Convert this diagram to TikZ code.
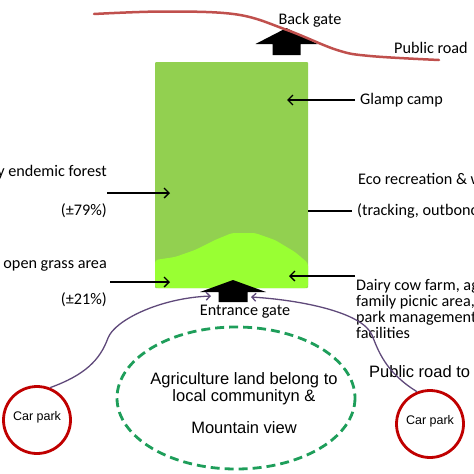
\documentclass[tikz,border=0pt]{standalone}
\usepackage{fontspec}
\setmainfont{Carlito}
\newfontfamily\arialfont{Liberation Sans}
\usetikzlibrary{positioning,arrows.meta}
\definecolor{forestgreen}{HTML}{92D050}
\definecolor{grassgreen}{HTML}{99FF33}
\definecolor{roadred}{HTML}{C0504D}
\definecolor{parkred}{HTML}{C00000}
\definecolor{walkpurple}{HTML}{5F497A}
\definecolor{agrigreen}{HTML}{1E9E5A}
\tikzset{
    pics/gatearrow/.style n args = {4}{
        code = {
        \fill [black] (-#1,0) -- (0,-#2) -- (#1,0) -- (#3,0) -- (#3,#4) -- (-#3,#4) -- (-#3,0) -- cycle;
        }
    },
    lbl/.style = {font=\fontsize{16.2}{16}\selectfont, inner sep=0pt},
    agritxt/.style = {font=\arialfont\fontsize{16.5}{17}\selectfont, align=center, inner sep=0pt},
    carpark/.style = {circle, draw=parkred, line width=2.8pt, minimum size=67pt, inner sep=0pt,
        font=\arialfont\fontsize{12.5}{13}\selectfont},
    walk/.style = {draw=walkpurple, line width=1.3pt, -{Straight Barb[length=4pt,width=8pt]}},
    pointer/.style = {line width=1.3pt}
}

\begin{document}
\begin{tikzpicture}[x=1pt, y=-1pt, >={Straight Barb[length=5pt,width=10pt]}]
    \useasboundingbox (0,0) rectangle (474,474);

    % site
    \fill [forestgreen, rounded corners=1pt] (155,62) rectangle (308,288);
    \fill [grassgreen, rounded corners=3pt] (155,260) -- (175,257) -- (195,250) -- (215,240) -- (232,233)
        -- (255,233) -- (275,240) -- (295,252) -- (308,263) -- (308,288) -- (155,288) -- cycle;

    % gates and road
    \path pic at (286.5,44) {gatearrow={31}{16}{14}{11}};
    \path pic at (233,292) {gatearrow={33}{12}{14.5}{10}};
    \draw [roadred, line width=2.5pt, line cap=round] plot [smooth, tension=0.6]
        coordinates {(94,14) (165,11.5) (237,14.5) (287,30) (337,50) (370,56) (439,60)};
    \node [lbl] (backgate) at (310,20) {Back gate};
    \node [lbl] (road) at (431,48) {Public road};
    \node [lbl] (entrance) at (245,312) {Entrance gate};

    % labels
    \node [lbl, anchor=west] (glamp) at (360,100) {Glamp camp};
    \coordinate(Gs) at (355,100);
    \coordinate(Gn) at (287,100);

    \node [lbl, anchor=east] (forest) at (107,172) {y endemic forest};
    \node [lbl, anchor=east] (forestpc) at (107,211) {(±79\%)};
    \coordinate(Fs) at (107,193);
    \coordinate(Fn) at (170,193);

    \node [lbl, anchor=east] (grass) at (107,266) {open grass area};
    \node [lbl, anchor=east] (grasspc) at (107,300) {(±21\%)};
    \coordinate(Os) at (110,282);
    \coordinate(On) at (170,282);

    \node [lbl, anchor=west] (eco) at (358,179) {Eco recreation \& w};
    \node [lbl, anchor=west] (ecoact) at (357,211) {(tracking, outbonc};
    \coordinate(Es) at (308,211);
    \coordinate(En) at (352,211);

    \node [lbl, anchor=north west, align=left] (dairy) at (356,279)
        {Dairy cow farm, ag\\family picnic area,\\park management\\facilities};
    \coordinate(Ds) at (355,276);
    \coordinate(Dn) at (289,276);

    \draw [->,  pointer] (Gs)--(Gn);
    \draw [->,  pointer] (Fs)--(Fn);
    \draw [->,  pointer] (Os)--(On);
    \draw [pointer] (Es)--(En);
    \draw [->,  pointer] (Ds)--(Dn);

    % outside the site
    \draw [agrigreen, line width=2.8pt, dash pattern=on 9pt off 5pt] (236,398) ellipse [x radius=119, y radius=71];
    \node [agritxt] (agri) at (244,403)
        {Agriculture land belong to\\local communityn \&\\[15pt]Mountain view};
    \node [agritxt, anchor=west] (road2) at (369,372) {Public road to t};

    \node [carpark, text height=6pt, text depth=5pt] (cpl) at (37,420) {Car park};
    \node [carpark, text height=6pt, text depth=5pt] (cpr) at (430,424) {Car park};
    \coordinate(Wl) at (211,296);
    \coordinate(Wr) at (251,297);

    \draw [walk] (cpl.68) .. controls (85,375) and (100,360) .. (108,338)
        .. controls (115,320) and (160,298) .. (Wl);
    \draw [walk] (cpr.112) .. controls (385,372) and (378,350) .. (372,335)
        .. controls (362,312) and (300,300) .. (Wr);

\end{tikzpicture}
\end{document}
